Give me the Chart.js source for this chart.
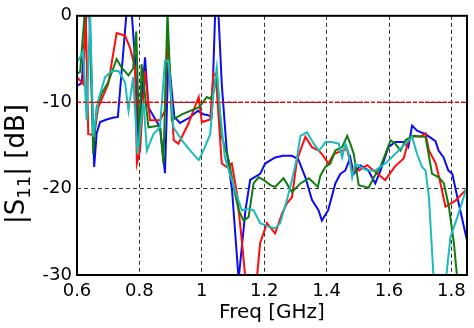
<!DOCTYPE html>
<html>
<head>
<meta charset="utf-8">
<script src="https://cdn.jsdelivr.net/npm/chart.js@4/dist/chart.umd.min.js"></script>
<style>
html, body { margin: 0; padding: 0; background: #fff; }
canvas { display: block; }
</style>
</head>
<body>
<canvas id="s11Chart" width="474" height="328"></canvas>
<script>
// axis ticks
var xTicks = [0.6, 0.8, 1.0, 1.2, 1.4, 1.6, 1.8];
var yTicks = [-30, -20, -10, 0];
var refLevel = -10;

// measured curves, frequency in GHz / |S11| in dB
var blueFreq = [0.6, 0.615, 0.631, 0.64, 0.655, 0.663, 0.674, 0.695, 0.715, 0.731, 0.759, 0.775, 0.786, 0.797, 0.818, 0.829, 0.866, 0.882, 0.893, 0.912, 0.93, 0.96, 0.988, 1.005, 1.02, 1.032, 1.043, 1.053, 1.064, 1.08, 1.097, 1.118, 1.14, 1.155, 1.187, 1.203, 1.235, 1.261, 1.289, 1.309, 1.332, 1.353, 1.374, 1.385, 1.405, 1.428, 1.444, 1.46, 1.476, 1.487, 1.508, 1.534, 1.556, 1.573, 1.598, 1.62, 1.646, 1.662, 1.674, 1.69, 1.717, 1.749, 1.759, 1.775, 1.79, 1.803, 1.819, 1.85];
var blueDb = [-8.1, -7.8, 0.5, 0.5, -17.5, -13.6, -12.3, -12.0, -11.8, -11.7, 0.5, 0.5, -5, -14.8, -4.8, -10.6, -12.9, -18.2, -4.8, -11.7, -12.4, -11.8, -11.0, -11.4, -11.5, -11.7, 0.5, 0.5, -7.9, -15.6, -20.2, -30.5, -22.5, -19.0, -18.3, -17.1, -16.4, -16.2, -16.2, -16.6, -18.7, -21.3, -22.5, -23.7, -22.5, -19.4, -18.3, -17.9, -16.4, -18.3, -17.3, -17.9, -19.4, -17.9, -15.2, -14.6, -14.6, -15.2, -12.7, -13.3, -13.7, -14.5, -15.6, -16.4, -17.9, -18.3, -21.0, -26.0];

var redFreq = [0.6, 0.62, 0.628, 0.636, 0.655, 0.668, 0.70, 0.727, 0.754, 0.77, 0.786, 0.792, 0.802, 0.818, 0.834, 0.866, 0.882, 0.89, 0.91, 0.925, 0.957, 0.99, 1.0, 1.027, 1.037, 1.045, 1.064, 1.08, 1.096, 1.113, 1.129, 1.14, 1.16, 1.177, 1.187, 1.209, 1.235, 1.257, 1.273, 1.289, 1.305, 1.332, 1.353, 1.375, 1.385, 1.406, 1.423, 1.45, 1.465, 1.482, 1.503, 1.53, 1.551, 1.56, 1.588, 1.62, 1.647, 1.663, 1.68, 1.70, 1.717, 1.728, 1.75, 1.765, 1.781, 1.813, 1.85];
var redDb = [-7.1, -7.9, 0.5, -13.7, -13.8, -10.6, -7.9, -2.0, -2.3, -3.7, -6.0, -17.1, -15.6, -6.4, -12.1, -12.1, -11.0, -2.1, -14.4, -14.8, -12.5, -9.4, -12.3, -12.0, -6.6, -7.0, -17.1, -17.5, -17.1, -20.6, -26.3, -30.5, -32, -30.2, -26.3, -24.0, -25.2, -22.9, -21.7, -21.0, -16.7, -14.0, -15.2, -15.6, -16.0, -17.1, -16.0, -15.6, -15.4, -17.9, -17.9, -17.3, -17.9, -18.2, -19.0, -17.4, -16.5, -14.4, -13.9, -14.0, -13.6, -15.6, -17.1, -19.4, -22.1, -21.4, -20.0];

var greenFreq = [0.6, 0.61, 0.625, 0.64, 0.652, 0.663, 0.679, 0.70, 0.727, 0.743, 0.765, 0.78, 0.79, 0.80, 0.807, 0.829, 0.866, 0.877, 0.89, 0.904, 0.936, 0.99, 1.0, 1.016, 1.027, 1.037, 1.048, 1.064, 1.086, 1.102, 1.118, 1.134, 1.15, 1.166, 1.182, 1.198, 1.22, 1.235, 1.262, 1.289, 1.316, 1.343, 1.372, 1.38, 1.396, 1.412, 1.428, 1.45, 1.466, 1.476, 1.487, 1.503, 1.524, 1.535, 1.551, 1.572, 1.58, 1.605, 1.62, 1.637, 1.653, 1.674, 1.717, 1.738, 1.76, 1.776, 1.792, 1.808, 1.819, 1.83];
var greenDb = [-6.7, -6.5, 0.5, 0.5, -16.0, -10.6, -9.0, -7.7, -5.0, -6.0, -6.9, -6.1, -1.8, -15.2, -5.6, -12.9, -12.7, -17.1, 0.5, -12.1, -11.4, -10.6, -10.2, -9.4, -9.6, -9.0, -6.7, -14.0, -16.7, -19.8, -22.5, -23.7, -23.3, -19.4, -18.7, -19.0, -19.6, -19.8, -18.8, -20.4, -19.4, -18.8, -19.8, -18.5, -17.5, -17.1, -15.6, -15.2, -13.9, -14.8, -16.0, -19.6, -19.8, -19.9, -18.7, -17.5, -16.8, -14.4, -14.8, -15.6, -14.4, -13.9, -14.0, -18.3, -18.7, -19.4, -22.1, -26.3, -30.5, -33];

var cyanFreq = [0.6, 0.62, 0.631, 0.642, 0.652, 0.668, 0.69, 0.711, 0.733, 0.754, 0.765, 0.78, 0.794, 0.813, 0.824, 0.845, 0.866, 0.882, 0.893, 0.909, 0.936, 0.963, 0.99, 1.005, 1.027, 1.037, 1.048, 1.058, 1.074, 1.09, 1.107, 1.128, 1.15, 1.166, 1.187, 1.214, 1.235, 1.251, 1.273, 1.289, 1.305, 1.316, 1.337, 1.359, 1.375, 1.385, 1.396, 1.417, 1.439, 1.45, 1.46, 1.47, 1.482, 1.492, 1.508, 1.53, 1.555, 1.588, 1.62, 1.653, 1.674, 1.69, 1.706, 1.717, 1.728, 1.744, 1.765, 1.781, 1.797, 1.819, 1.85];
var cyanDb = [-5.4, -4.1, -12.1, 0.5, -14.0, -9.8, -7.1, -6.4, -6.4, -7.7, -11.0, -7.1, -16.0, -9.8, -15.6, -13.7, -12.9, -5.2, -5.2, -12.9, -14.4, -15.6, -16.7, -15.6, -13.7, -9.0, -6.0, -11.0, -16.4, -18.3, -20.2, -22.5, -22.3, -22.5, -24.0, -24.4, -24.6, -24.0, -21.3, -19.0, -16.4, -13.9, -13.5, -14.8, -15.6, -15.2, -14.6, -14.6, -14.8, -16.4, -14.8, -15.8, -18.7, -17.1, -17.5, -17.9, -17.9, -17.1, -16.0, -14.8, -14.0, -16.0, -17.5, -17.9, -21.0, -31.0, -33.0, -31.0, -25.6, -23.3, -19.8];

function pts(f, d) {
    return f.map(function (x, i) { return { x: x, y: d[i] }; });
}

function curve(f, d, color) {
    return {
        data: pts(f, d),
        borderColor: color,
        borderWidth: 2,
        pointRadius: 0,
        tension: 0,
        fill: false
    };
}

// box around plot + y title with subscript
var framePlugin = {
    id: 'frame',
    afterDraw: function (chart) {
        var ctx = chart.ctx;
        var a = chart.chartArea;
        ctx.save();
        ctx.strokeStyle = '#000';
        ctx.lineWidth = 2;
        ctx.strokeRect(a.left, a.top, a.right - a.left, a.bottom - a.top);

        var parts = [
            { t: '|S', size: 26, dy: 0 },
            { t: '11', size: 18, dy: 8 },
            { t: '| [dB]', size: 26, dy: 0 }
        ];
        var total = 0;
        parts.forEach(function (p) {
            ctx.font = p.size + 'px "DejaVu Sans"';
            p.w = ctx.measureText(p.t).width;
            total += p.w;
        });
        ctx.translate(17, 164);
        ctx.rotate(-Math.PI / 2);
        ctx.fillStyle = '#000';
        ctx.textBaseline = 'middle';
        var x = -total / 2;
        parts.forEach(function (p) {
            ctx.font = p.size + 'px "DejaVu Sans"';
            ctx.fillText(p.t, x, p.dy);
            x += p.w;
        });
        ctx.restore();
    }
};

Chart.defaults.font.family = '"DejaVu Sans"';
Chart.defaults.color = '#000';

var s11Chart = new Chart(document.getElementById('s11Chart'), {
    type: 'line',
    data: {
        datasets: [
            {
                data: [{ x: 0.6, y: refLevel }, { x: 1.85, y: refLevel }],
                borderColor: '#ff0000',
                borderWidth: 1.5,
                borderDash: [4, 2],
                pointRadius: 0
            },
            curve(cyanFreq, cyanDb, '#1cbcbc'),
            curve(greenFreq, greenDb, '#107c10'),
            curve(redFreq, redDb, '#ff0c0c'),
            curve(blueFreq, blueDb, '#0c0cf0')
        ]
    },
    options: {
        responsive: false,
        animation: false,
        layout: { padding: { top: 14, right: 7, left: 0, bottom: 0 } },
        plugins: {
            legend: { display: false },
            tooltip: { enabled: false }
        },
        scales: {
            x: {
                type: 'linear',
                min: 0.6,
                max: 1.85,
                afterBuildTicks: function (s) { s.ticks = xTicks.map(function (v) { return { value: v }; }); },
                afterFit: function (s) { s.height = 53; },
                ticks: {
                    font: { size: 18 },
                    padding: 6,
                    maxRotation: 0,
                    callback: function (v) { return String(Math.round(v * 10) / 10); }
                },
                grid: { color: '#333', lineWidth: 1, drawTicks: false },
                border: { display: false, dash: [4, 3] },
                title: {
                    display: true,
                    text: 'Freq [GHz]',
                    font: { size: 20 },
                    padding: { top: 0, bottom: 3 }
                }
            },
            y: {
                min: -30,
                max: 0,
                afterBuildTicks: function (s) { s.ticks = yTicks.map(function (v) { return { value: v }; }); },
                afterFit: function (s) { s.width = 77; },
                ticks: { font: { size: 18 }, padding: 5 },
                grid: { color: '#333', lineWidth: 1, drawTicks: false },
                border: { display: false, dash: [4, 3] }
            }
        }
    },
    plugins: [framePlugin]
});
</script>
</body>
</html>
